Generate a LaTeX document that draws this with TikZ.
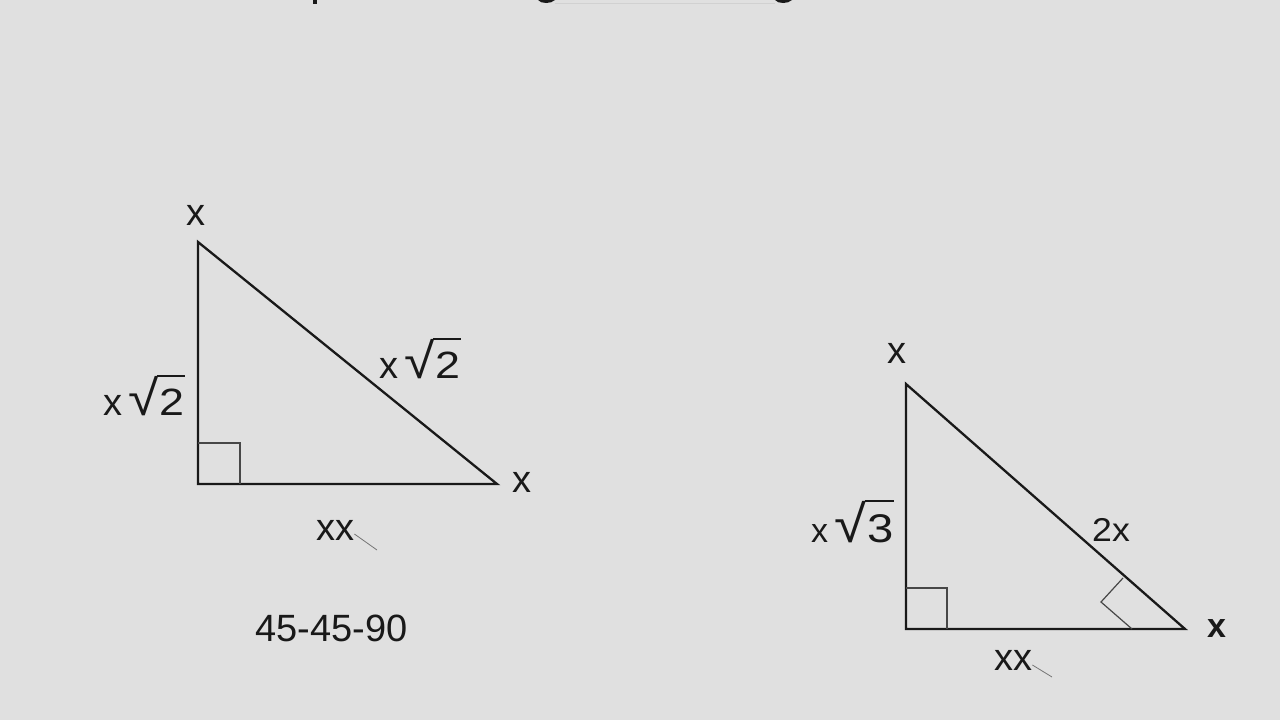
\documentclass[tikz,border=0pt]{standalone}
\usepackage{fontspec}
\usepackage{graphicx}
\setmainfont{Liberation Sans}
\definecolor{bg}{RGB}{224,224,224}
\definecolor{ink}{RGB}{25,25,25}
\newcommand\rad[1]{\scalebox{1.45}[1.3]{√}\kern-1.5pt\setbox0\hbox{\kern2.5pt\scalebox{1.18}[1]{#1}\kern1pt}\rlap{\rule[1.0em]{\wd0}{0.055em}}\box0}
\begin{document}
\begin{tikzpicture}[x=1pt,y=-1pt,
  lab/.style={font=\fontsize{38}{40}\selectfont, text=ink, inner sep=0pt, anchor=base west},
  side/.style={draw=ink, line width=2.3pt, line join=miter},
  anglemark/.style={draw=ink!80, line width=1.2pt},
  tail/.style={draw=ink!60, line width=0.8pt}]
\fill[bg] (0,0) rectangle (1280,720);
\useasboundingbox (0,0) rectangle (1280,720);
% cut-off title fragments
\fill[ink] (313,0) rectangle (317,4);
\fill[ink] (538,0) .. controls (541,4) and (551,4) .. (555,0) -- cycle;
\draw[ink!20, line width=0.8pt] (555,3) -- (775,3);
\fill[ink] (775,0) .. controls (778,4) and (788,4) .. (792,0) -- cycle;
% left triangle
\coordinate (A1) at (198,242);
\coordinate (B1) at (198,484);
\coordinate (C1) at (497,484);
\draw[side] (A1) -- (B1) -- (C1) -- cycle;
\draw[anglemark] (198,443) -- (240,443) -- (240,484);
\node[lab] (tA1) at (186,225) {x};
\node[lab] (lL1) at (103,415) {x\kern6pt\rad{2}};
\node[lab] (lH1) at (379,378) {x\kern6pt\rad{2}};
\node[lab] (tC1) at (512,492) {x};
\node[lab, font=\fontsize{38}{40}\selectfont] (lB1) at (316,540) {xx};
\coordinate (t1) at (377,550);
\draw[tail] (lB1.base east) ++(0,-6) -- (t1);
\node[lab] (cap1) at (255,641) {45-45-90};
% right triangle
\coordinate (A2) at (906,384);
\coordinate (B2) at (906,629);
\coordinate (C2) at (1185,629);
\draw[side] (A2) -- (B2) -- (C2) -- cycle;
\draw[anglemark] (906,588) -- (947,588) -- (947,629);
\draw[anglemark] (1123,578) -- (1101,602) -- (1132,629);
\node[lab] (tA2) at (887,363) {x};
\node[lab] (lL2) at (811,542) {{\fontsize{34}{40}\selectfont x}\kern6pt{\fontsize{40}{44}\selectfont\rad{3}}};
\node[lab, font=\fontsize{33}{40}\selectfont] (lH2) at (1092,541) {\scalebox{1.08}[1]{2x}};
\node[lab, font=\fontsize{34}{40}\selectfont\bfseries] (tC2) at (1207,637) {x};
\node[lab, font=\fontsize{38}{40}\selectfont] (lB2) at (994,670) {xx};
\coordinate (t2) at (1052,677);
\draw[tail] (lB2.base east) ++(0,-5) -- (t2);
\end{tikzpicture}
\end{document}
